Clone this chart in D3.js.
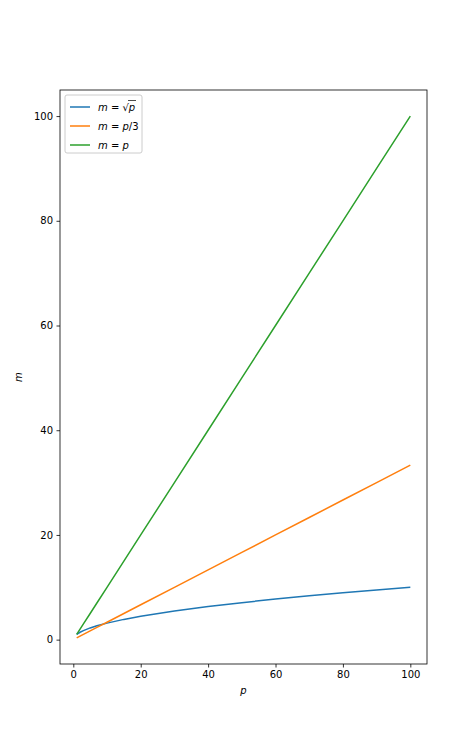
<!DOCTYPE html>
<html><head><meta charset="utf-8">
<script src="https://cdn.jsdelivr.net/npm/d3@7"></script>
<style>
body{margin:0;background:#fff}
text{font-family:"DejaVu Sans",sans-serif}
.axis text{font-size:10px;fill:#000}
.axis path,.axis line{stroke:#000;stroke-width:0.8}
</style></head><body>
<svg id="chart" width="474" height="746"></svg>
<script>
// p values sampled along the curves
const pVals = [1, 2, 3, 5, 7, 10, 15, 20, 30, 40, 50, 60, 70, 80, 90, 100];
const sqrtVals = [1, 1.41, 1.73, 2.24, 2.65, 3.16, 3.87, 4.47, 5.48, 6.32, 7.07, 7.75, 8.37, 8.94, 9.49, 10];
const thirdVals = [0.33, 0.67, 1, 1.67, 2.33, 3.33, 5, 6.67, 10, 13.33, 16.67, 20, 23.33, 26.67, 30, 33.33];
const idVals = [1, 2, 3, 5, 7, 10, 15, 20, 30, 40, 50, 60, 70, 80, 90, 100];
const xTicks = [0, 20, 40, 60, 80, 100];
const yTicks = [0, 20, 40, 60, 80, 100];

const series = [
  {label: 'sqrt', vals: sqrtVals, color: '#1f77b4'},
  {label: 'third', vals: thirdVals, color: '#ff7f0e'},
  {label: 'id', vals: idVals, color: '#2ca02c'}
];

const margin = {top: 90, right: 47, bottom: 82, left: 60},
  width = 474 - margin.left - margin.right,
  height = 746 - margin.top - margin.bottom;

const x = d3.scaleLinear().domain([-3.95, 104.95]).range([0, width]);
const y = d3.scaleLinear().domain([-4.65, 104.98]).range([height, 0]);

const chart = d3.select('#chart').append('g')
  .attr('transform', `translate(${margin.left},${margin.top})`);

const line = d3.line().x(d => x(d[0])).y(d => y(d[1]));
series.forEach(s => {
  chart.append('path')
    .datum(pVals.map((p, i) => [p, s.vals[i]]))
    .attr('d', line).attr('fill', 'none')
    .attr('stroke', s.color).attr('stroke-width', 1.5);
});

chart.append('g').attr('class', 'axis')
  .attr('transform', `translate(0,${height})`)
  .call(d3.axisBottom(x).tickValues(xTicks).tickSize(3.5).tickPadding(3.5))
  .call(g => g.select('.domain').remove());
chart.append('g').attr('class', 'axis')
  .call(d3.axisLeft(y).tickValues(yTicks).tickSize(3.5).tickPadding(3.5))
  .call(g => g.select('.domain').remove());
chart.append('rect').attr('width', width).attr('height', height)
  .attr('fill', 'none').attr('stroke', '#000').attr('stroke-width', 0.8);

chart.append('text').attr('x', width / 2).attr('y', height + 30)
  .attr('text-anchor', 'middle').attr('font-size', 10).attr('font-style', 'italic').text('p');
chart.append('text').attr('transform', `translate(-38,${height / 2}) rotate(-90)`)
  .attr('text-anchor', 'middle').attr('font-size', 10).attr('font-style', 'italic').text('m');

// legend
const lg = chart.append('g').attr('transform', 'translate(5,5)');
lg.append('rect').attr('width', 77).attr('height', 58).attr('rx', 2)
  .attr('fill', '#fff').attr('fill-opacity', 0.8).attr('stroke', '#ccc');
const labels = [
  ['m', ' = √', 'p', ''],
  ['m', ' = ', 'p', '/3'],
  ['m', ' = ', 'p', '']
];
series.forEach((s, i) => {
  const yy = 12 + i * 19;
  lg.append('line').attr('x1', 5).attr('x2', 25).attr('y1', yy).attr('y2', yy)
    .attr('stroke', s.color).attr('stroke-width', 1.5);
  const t = lg.append('text').attr('x', 33).attr('y', yy + 3.5).attr('font-size', 10);
  const l = labels[i];
  t.append('tspan').attr('font-style', 'italic').text(l[0]);
  t.append('tspan').text(l[1]);
  t.append('tspan').attr('font-style', 'italic').text(l[2]);
  t.append('tspan').text(l[3]);
  if (i === 0) {
    lg.append('line').attr('x1', 63).attr('x2', 71).attr('y1', yy - 6.5).attr('y2', yy - 6.5)
      .attr('stroke', '#000').attr('stroke-width', 0.7);
  }
});
</script></body></html>
